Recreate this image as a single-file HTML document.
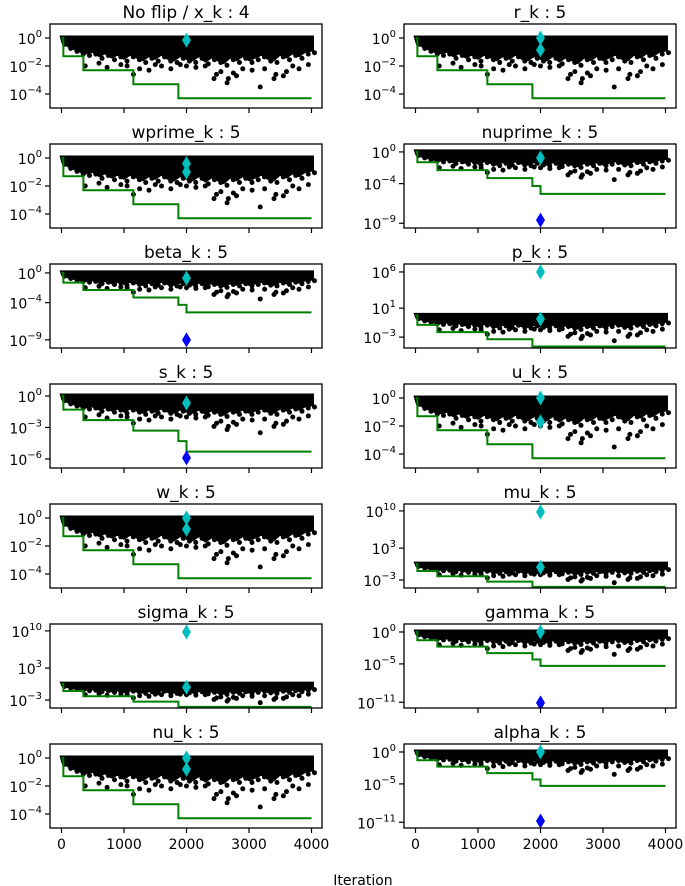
<!DOCTYPE html>
<html><head><meta charset="utf-8">
<style>
html,body{margin:0;padding:0;background:#fff;}
svg{display:block;font-family:"DejaVu Sans","Liberation Sans",sans-serif;}
</style></head>
<body>
<svg id="fig" width="685" height="886" viewBox="0 0 685 886" xmlns="http://www.w3.org/2000/svg"></svg>
<script>
// ---- data ----
const panelTitles = ["No flip / x_k : 4","r_k : 5","wprime_k : 5","nuprime_k : 5","beta_k : 5","p_k : 5","s_k : 5","u_k : 5","w_k : 5","mu_k : 5","sigma_k : 5","gamma_k : 5","nu_k : 5","alpha_k : 5"];
const yMin = [-5,-5,-5,-9.6,-10.1,-4.5,-6.86,-5,-5,-4.5,-4.5,-11.9,-5,-11.9];
const yMax = [1,1,1,1,1.2,7.1,1.14,1,1,11.3,11.3,1.25,1,1.25];
const yTicks = [[0,-2,-4],[0,-2,-4],[0,-2,-4],[0,-4,-9],[0,-4,-9],[6,1,-3],[0,-3,-6],[0,-2,-4],[0,-2,-4],[10,3,-3],[10,3,-3],[0,-5,-11],[0,-2,-4],[0,-5,-11]];
const cyanVals = [[-0.15],[0,-0.85],[-0.4,-1.0],[-0.75],[-0.7],[6,-0.5],[-0.67],[0,-1.7],[0,-0.8],[9.8,-0.6],[9.8,-0.6],[0],[0,-0.8],[0]];
const blueVals = [[],[],[],[-8.6],[-9.0],[],[-5.9],[],[],[],[],[-11.1],[],[-10.8]];
const greenType = [0,0,0,1,1,0,1,0,0,0,0,1,0,1];
const greenBreaksA = [0,30,350,1150,1870,4000];
const greenLevelsA = [0,-1.3,-2.3,-3.3,-4.3];
const greenBreaksB = [0,30,350,1150,1870,2000,4000];
const greenLevelsB = [0,-1.3,-2.3,-3.3,-4.3,-5.3];
const xTicks = [0,1000,2000,3000,4000];
const cloudIter = [0,100,200,300,400,500,600,700,800,900,1000,1100,1200,1300,1400,1500,1600,1700,1800,1900,2000,2100,2200,2300,2400,2500,2600,2700,2800,2900,3000,3100,3200,3300,3400,3500,3600,3700,3800,3900,4000];
const cloudFloor = [-0.3,-0.6,-0.8,-1.0,-1.1,-1.0,-1.3,-1.1,-1.4,-1.2,-1.5,-1.2,-1.4,-1.6,-1.3,-1.5,-1.2,-1.5,-1.6,-1.3,-1.5,-1.6,-1.3,-1.7,-1.4,-1.6,-1.8,-1.4,-1.6,-1.3,-1.6,-1.4,-1.2,-1.5,-1.6,-1.2,-1.4,-1.1,-1.3,-1.0,-0.9];
const outIter = [380,730,950,1150,1250,1400,1600,1750,1900,2000,2150,2300,2440,2550,2650,2750,2800,3050,3180,3250,3400,3550,3600,3800,3950,1050,1500,2900,3700,600,2480,2670,3430];
const outVal  = [-2.0,-2.1,-1.9,-2.6,-2.2,-2.3,-2.0,-2.2,-1.9,-2.0,-2.1,-2.0,-2.9,-2.4,-3.2,-2.5,-2.7,-2.3,-3.5,-2.2,-2.9,-2.7,-2.4,-2.2,-1.9,-2.0,-1.9,-2.2,-2.0,-1.8,-2.6,-2.9,-2.6];

// ---- drawing ----
const NS="http://www.w3.org/2000/svg";
const fig=document.getElementById('fig');
function mk(tag,attrs,parent){const e=document.createElementNS(NS,tag);for(const k in attrs)e.setAttribute(k,attrs[k]);(parent||fig).appendChild(e);return e;}
const colLeft=[50,404], axW=272, axH=84;

panelTitles.forEach((title,i)=>{
  const col=i%2,row=Math.floor(i/2);
  const L=colLeft[col], T=24+120*row;
  const X=it=>L+11.5+it/4000*250;
  const Y=v=>T+(yMax[i]-v)/(yMax[i]-yMin[i])*axH;
  const g=mk('g',{});
  
  
  const cid='clip'+i;
  const cp=mk('clipPath',{id:cid},g);mk('rect',{x:L,y:T,width:axW,height:axH},cp);
  const inner=mk('g',{'clip-path':'url(#'+cid+')'},g);
  // cloud band
  let d='M'+(X(0)-2)+','+(Y(0)-2.5);
  cloudIter.forEach((it,k)=>{d+=' L'+X(it)+','+(Y(cloudFloor[k])+1);});
  d+=' L'+(X(4000)+2.5)+','+(Y(cloudFloor[cloudFloor.length-1])+1)+' L'+(X(4000)+2.5)+','+(Y(0)-2.5)+' Z';
  const band=mk('path',{d:d,fill:'#000'},inner);
  
  
  cloudIter.forEach((it,k)=>{
    const c=mk('circle',{cx:X(it)+3,cy:Y(cloudFloor[k]-0.15),r:2.5,fill:'#000'},inner);
    
    
  });
  outIter.forEach((it,k)=>{
    const c=mk('circle',{cx:X(it),cy:Y(outVal[k]),r:2.5,fill:'#000'},inner);
    
    
  });
  // green step line
  const br=greenType[i]?greenBreaksB:greenBreaksA, lv=greenType[i]?greenLevelsB:greenLevelsA;
  let gd='M'+X(br[0])+','+Y(lv[0]);
  for(let k=0;k<lv.length;k++){gd+=' L'+X(br[k+1])+','+Y(lv[k]);if(k+1<lv.length)gd+=' L'+X(br[k+1])+','+Y(lv[k+1]);}
  const gl=mk('path',{d:gd,fill:'none',stroke:'#008000','stroke-width':2},inner);
  
  
  // diamonds
  function diamond(v,color,name){
    const cx=X(2000),cy=Y(v);
    const p=mk('path',{d:`M${cx},${cy-7.5} L${cx+4.5},${cy} L${cx},${cy+7.5} L${cx-4.5},${cy} Z`,fill:color},inner);
    
    
  }
  cyanVals[i].forEach(v=>diamond(v,'#00bfbf','flip-marker'));
  blueVals[i].forEach(v=>diamond(v,'#0000ff','flip-marker-low'));
  // frame
  const fr=mk('rect',{x:L,y:T,width:axW,height:axH,fill:'none',stroke:'#000','stroke-width':1.3},g);
  
  
  // x ticks
  xTicks.forEach(t=>{
    mk('line',{x1:X(t),x2:X(t),y1:T+axH,y2:T+axH+5,stroke:'#000','stroke-width':1.2},g);
    if(row===6){
      const tx=mk('text',{x:X(t),y:T+axH+21,'text-anchor':'middle','font-size':14},g);
      tx.textContent=t;
      
      
    }
  });
  // y ticks
  yTicks[i].forEach(t=>{
    const y=Y(t);
    mk('line',{x1:L-5,x2:L,y1:y,y2:y,stroke:'#000','stroke-width':1.2},g);
    const tx=mk('text',{x:L-8,y:y+6,'text-anchor':'end','font-size':14},g);
    
    
    const a=mk('tspan',{},tx);a.textContent='10';
    const b=mk('tspan',{dy:-7,'font-size':10},tx);b.textContent=(t<0?'\u2212':'')+Math.abs(t);
  });
  // title
  const tt=mk('text',{x:L+axW/2,y:T-6,'text-anchor':'middle','font-size':17},g);
  tt.textContent=title;
  
  
});
const xl=mk('text',{x:363,y:885,'text-anchor':'middle','font-size':14});
xl.textContent='Iteration';


</script>
</body></html>
